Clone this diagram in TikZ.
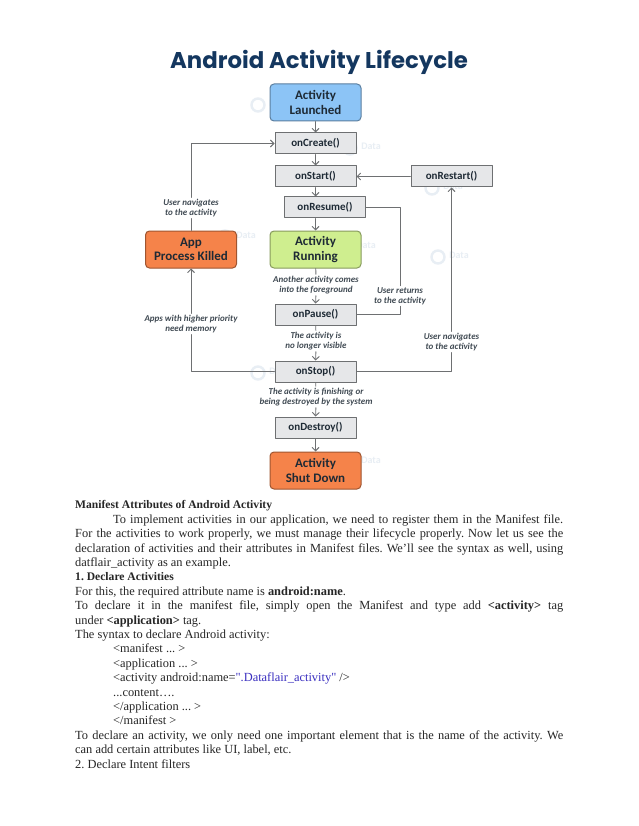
\documentclass[tikz,border=0pt]{standalone}
\usepackage{fontspec}
\newfontfamily\pagefont{Liberation Serif}
\newfontfamily\boxfont{Carlito}
\newfontfamily\titlefont{Poppins}
\usetikzlibrary{arrows.meta}
\definecolor{titleblue}{HTML}{14375F}
\definecolor{linegray}{HTML}{6E7072}
\definecolor{boxgray}{HTML}{E6E7E9}
\definecolor{inkdark}{HTML}{1E2A35}
\definecolor{markpale}{HTML}{E8EEF4}
\definecolor{codeblue}{HTML}{3A2FC0}
\definecolor{skyfill}{HTML}{8CC4F6}
\definecolor{limefill}{HTML}{CFEE8F}
\definecolor{orangefill}{HTML}{F5834A}
\tikzset{
  stagebox/.style={draw=linegray,line width=1pt,fill=boxgray,minimum width=81pt,minimum height=21pt,inner sep=0pt,text=inkdark,font=\boxfont\bfseries\fontsize{11}{13}\selectfont},
  statebox/.style={draw=#1!65!black,line width=1pt,fill=#1,rounded corners=4pt,minimum width=91pt,minimum height=37pt,inner sep=0pt,align=center,text=inkdark,font=\boxfont\bfseries\fontsize{13}{14.5}\selectfont},
  notetext/.style={align=center,inner sep=1.5pt,text=inkdark!85,font=\boxfont\bfseries\itshape\fontsize{9}{10.2}\selectfont},
  flow/.style={-{Straight Barb[length=3.5pt,width=7pt]},draw=linegray,line width=0.9pt},
  plain/.style={draw=linegray,line width=0.9pt}
}
\begin{document}
\begin{tikzpicture}[line cap=round,line join=round,x=1pt,y=-1pt]
\useasboundingbox [fill=white] (0,0) rectangle (638,826);
% faint marks behind the chart
\foreach \i/\mx/\my in {1/258/105,2/350/148,3/432/188,4/225/237,5/345/247,6/438/257,7/258/373,8/350/462}{
  \node[text=markpale,inner sep=0pt,font=\boxfont\bfseries\fontsize{10}{10}\selectfont] (mark\i) at (\mx+21,\my-2) {Data};
  \draw[markpale,line width=2.4pt] (\mx,\my) circle (6.5pt);
}
\node[text=titleblue,font=\titlefont\bfseries\fontsize{22.8}{26}\selectfont] (title) at (319,62) {Android Activity Lifecycle};
% boxes
\node[statebox=skyfill] (launched) at (315.5,102.5) {Activity\\Launched};
\node[stagebox] (create) at (315.5,143.5) {onCreate()};
\node[stagebox] (start) at (315.5,176.5) {onStart()};
\node[stagebox] (restart) at (451.5,176.5) {onRestart()};
\node[stagebox] (resume) at (325,207.5) {onResume()};
\node[statebox=limefill] (running) at (315.5,249.5) {Activity\\Running};
\node[statebox=orangefill] (killed) at (191,249.5) {App\\Process Killed};
\node[stagebox] (pause) at (315.5,314.5) {onPause()};
\node[stagebox] (stop) at (315.5,371.5) {onStop()};
\node[stagebox] (destroy) at (315.5,427.5) {onDestroy()};
\node[statebox=orangefill] (shutdown) at (315.5,470.5) {Activity\\Shut Down};
% notes on the lines
\node[notetext] (navleft) at (191,208) {User navigates\\to the activity};
\node[notetext] (another) at (316,285) {Another activity comes\\into the foreground};
\node[notetext] (returns) at (400,296) {User returns\\to the activity};
\node[notetext] (memory) at (191,324) {Apps with higher priority\\need memory};
\node[notetext] (visible) at (316,341) {The activity is\\no longer visible};
\node[notetext] (navright) at (451.5,342) {User navigates\\to the activity};
\node[notetext] (finish) at (316,397) {The activity is finishing or\\being destroyed by the system};
% connectors
\draw[flow] (launched) -- (create);
\draw[flow] (create) -- (start);
\draw[flow] (restart) -- (start);
\draw[flow] (start) -- (start.south |- resume.north);
\draw[flow] (running.north |- resume.south) -- (running);
\draw[plain] (running) -- (another);
\draw[flow] (another) -- (pause);
\draw[plain] (pause) -- (visible);
\draw[flow] (visible) -- (stop);
\draw[plain] (stop) -- (finish);
\draw[flow] (finish) -- (destroy);
\draw[flow] (destroy) -- (shutdown);
\draw[plain] (killed) -- (navleft);
\draw[flow] (navleft) |- (create);
\draw[plain] (stop) -| (memory);
\draw[flow] (memory) -- (killed);
\draw[plain] (pause) -| (returns);
\draw[plain] (returns) |- (resume);
\draw[plain] (stop) -| (navright);
\draw[flow] (navright) -- (restart);
% page text
\node[anchor=north west,inner sep=0pt,text width=488pt,align=justify,text=black!85,font=\pagefont\fontsize{12.4}{14.4}\selectfont] (pagetext) at (75,500.5) {%
\setlength{\parindent}{0pt}\setlength{\parskip}{0pt}\frenchspacing\hyphenpenalty=10000
{\fontsize{11.6}{14.4}\selectfont\textbf{Manifest Attributes of Android Activity}}\par
\hspace*{38pt}To implement activities in our application, we need to register them in the Manifest file.\linebreak
For the activities to work properly, we must manage their lifecycle properly. Now let us see the\linebreak
declaration of activities and their attributes in Manifest files. We’ll see the syntax as well, using\linebreak
datflair\_activity as an example.\par
{\fontsize{11.6}{14.4}\selectfont\textbf{1. Declare Activities}}\par
For this, the required attribute name is \textbf{android:name}.\par
To declare it in the manifest file, simply open the Manifest and type add \textbf{<activity>} tag\linebreak
under \textbf{<application>} tag.\par
The syntax to declare Android activity:\par
\hspace*{38pt}<manifest ... >\par
\hspace*{38pt}<application ... >\par
\hspace*{38pt}<activity android:name=\textcolor{codeblue}{".Dataflair\_activity"} />\par
\hspace*{38pt}...content….\par
\hspace*{38pt}</application ... >\par
\hspace*{38pt}</manifest >\par
To declare an activity, we only need one important element that is the name of the activity. We\linebreak
can add certain attributes like UI, label, etc.\par
2. Declare Intent filters\par};
\end{tikzpicture}
\end{document}
